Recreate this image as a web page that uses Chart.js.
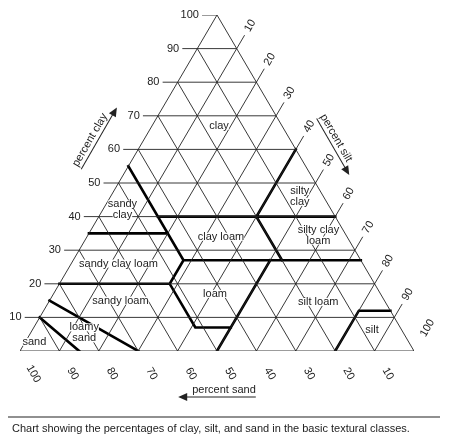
<!DOCTYPE html>
<html><head><meta charset="utf-8">
<script src="https://cdn.jsdelivr.net/npm/chart.js@4"></script>
<style>html,body{margin:0;padding:0;background:#fff}#w{width:450px;height:439px;position:relative}</style>
</head><body><div id="w"><canvas id="c"></canvas></div>
<script>
// tick values (percent)
const tickValues = [10,20,30,40,50,60,70,80,90,100];
// class boundary polylines as [sand, clay] pairs
const boundaries = [
  [[45,55],[45,27],[52,20],[52,7],[43,7]],
  [[23,27],[50,0]],
  [[45,40],[0,40]],
  [[20,40],[0,60]],
  [[20,40],[20,27]],
  [[65,35],[45,35]],
  [[45,27],[0,27]],
  [[80,20],[52,20]],
  [[70,0],[85,15]],
  [[85,0],[90,10]],
  [[20,0],[8,12],[0,12]]
];
// class names with anchor [sand, clay]
const classNames = ["clay","silty|clay","sandy|clay","clay loam","silty clay|loam","sandy clay loam","loam","sandy loam","silt loam","silt","loamy|sand","sand"];
const classAnchors = [[16,67],[6,46],[53,42],[32,34],[7,34.5],[62,26],[42,17],[67,15],[17,14.6],[7.5,6.3],[81,5.4],[95,2.7]];
const caption = "Chart showing the percentages of clay, silt, and sand in the basic textural classes.";

const X = (sand, clay) => 100 - sand - clay/2;
const pt = (s,c) => ({x:X(s,c), y:c});
function seg(list){ const out=[]; list.forEach(l=>{ l.forEach(p=>out.push(pt(p[0],p[1]))); out.push({x:NaN,y:NaN}); }); return out; }

const grid = [];
grid.push([[100,0],[0,100],[0,0],[100,0]]);
tickValues.forEach(k=>{
  if(k<100){
    grid.push([[100-k,k],[0,k]]);       // clay
    grid.push([[k,0],[k,100-k]]);       // sand
    grid.push([[100-k,0],[0,100-k]]);   // silt
  }
});
// tick extensions
const tks=[];
tickValues.forEach(k=>{
  tks.push([pt(100-k,k),{x:X(100-k,k)-3.8,y:k}]);
  tks.push([pt(k,0),pt(k,-4)]);              // sand=k line extended
  tks.push([pt(0,100-k),pt(-4,104-k)]);      // silt=k line extended
});
const tickData=[]; tks.forEach(t=>{tickData.push(t[0],t[1],{x:NaN,y:NaN});});

const FONT='"Liberation Sans Narrow","Liberation Sans",Arial,sans-serif';
const textPlugin={id:'txt',afterDatasetsDraw(ch){
  const c=ch.ctx,xs=ch.scales.x,ys=ch.scales.y;
  const P=(x,y)=>[xs.getPixelForValue(x),ys.getPixelForValue(y)];
  c.save(); c.fillStyle='#222'; c.font='11px '+FONT;
  c.textAlign='right'; c.textBaseline='middle';
  tickValues.forEach(k=>{const [px,py]=P(X(100-k,k)-4.6,k); c.fillText(String(k),px,py);});
  c.textAlign='center';
  tickValues.forEach(k=>{const p=pt(k,-6.8); const [px,py]=P(p.x,p.y);
    c.save();c.translate(px,py);c.rotate(Math.PI/3);c.fillText(String(k),0,0);c.restore();});
  tickValues.forEach(k=>{const p=pt(-6.8,106.8-k); const [px,py]=P(p.x,p.y);
    c.save();c.translate(px,py);c.rotate(-Math.PI/3);c.fillText(String(k),0,0);c.restore();});
  classNames.forEach((n,i)=>{const a=classAnchors[i]; const [px,py]=P(X(a[0],a[1]),a[1]);
    const lines=n.split('|'); lines.forEach((l,j)=>{
      const yy=py+(j-(lines.length-1)/2)*11;
      const w=c.measureText(l).width; c.fillStyle='#fff'; c.fillRect(px-w/2,yy-4,w,8);
      c.fillStyle='#222'; c.fillText(l,px,yy);});});
  function title(t,cx,cy,ang,arrowEnd){
    c.save();c.translate(cx,cy);c.rotate(ang);c.fillText(t,0,0);
    const w=c.measureText(t).width;
    c.lineWidth=1;c.strokeStyle='#222';c.beginPath();
    c.moveTo(-w/2-6*(arrowEnd<0),7);c.lineTo(w/2+6*(arrowEnd>0),7);c.stroke();
    const ax=arrowEnd>0? w/2+12 : -w/2-14;
    c.beginPath();c.moveTo(ax,7);c.lineTo(ax-9*Math.sign(arrowEnd),3);c.lineTo(ax-9*Math.sign(arrowEnd),11);c.closePath();c.fill();
    c.restore();
  }
  title('percent clay',90,140,-Math.PI/3,1);
  title('percent silt',336,138,Math.PI/3,1);
  title('percent sand',224,390,0,-1);
  c.strokeStyle='#222';c.lineWidth=1.2;c.beginPath();c.moveTo(8,417);c.lineTo(440,417);c.stroke();
  c.textAlign='left';c.fillText(caption,12,429);
  c.restore();
}};

new Chart(document.getElementById('c'),{
  type:'scatter',
  data:{datasets:[
    {data:seg(grid),showLine:true,borderColor:'#222',borderWidth:0.9,pointRadius:0,spanGaps:false},
    {data:tickData,showLine:true,borderColor:'#222',borderWidth:0.9,pointRadius:0,spanGaps:false},
    {data:seg(boundaries),showLine:true,borderColor:'#000',borderWidth:2.6,pointRadius:0,spanGaps:false,borderCapStyle:'square'}
  ]},
  options:{responsive:true,maintainAspectRatio:false,animation:false,
    layout:{padding:{left:20,right:36,top:15,bottom:88}},
    plugins:{legend:{display:false},tooltip:{enabled:false}},
    scales:{x:{type:'linear',min:0,max:100,display:false},y:{type:'linear',min:0,max:100,display:false}}
  },
  plugins:[textPlugin]
});
</script></body></html>
